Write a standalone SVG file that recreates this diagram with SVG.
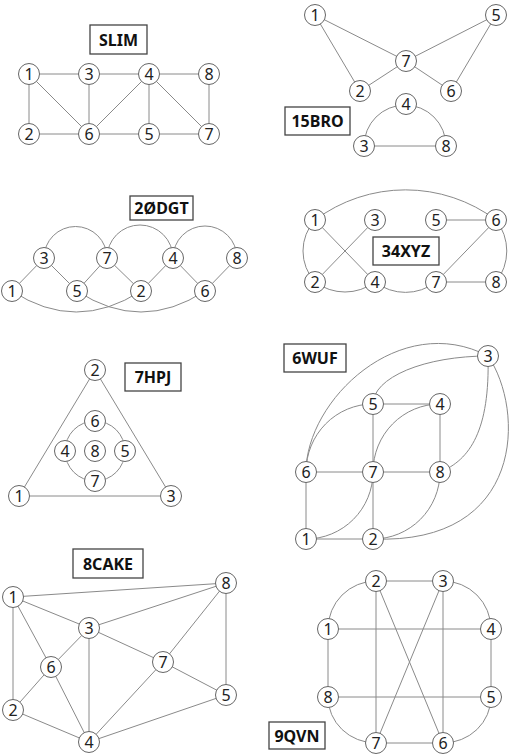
<svg xmlns="http://www.w3.org/2000/svg" width="512" height="755" viewBox="0 0 512 755">
<style>
.e{fill:none;stroke:#8a8a8a;stroke-width:1}
.n circle{fill:#fff;stroke:#666;stroke-width:1}
.n text{font-family:"Noto Sans","Open Sans",sans-serif;font-size:16px;fill:#222;text-anchor:middle}
.l rect{fill:#fff;stroke:#444;stroke-width:1.3}
.l text{font-family:"Noto Sans","Open Sans",sans-serif;font-size:16px;font-weight:bold;fill:#111;text-anchor:middle}
</style>
<rect width="512" height="755" fill="#fff"/>
<g id="connectors">
<!-- SLIM -->
<path class="e" d="M29,74H209M29,74V134M29,74L89,134M89,74V134M149,74L89,134M149,74V134M149,74L209,134M209,74V134M29,134H209"/>
<!-- 15BRO -->
<path class="e" d="M315,15L406,61M315,15L360,91M406,61L360,91M496,15L406,61M496,15L451,91M406,61L451,91M364,146H446"/>
<path class="e" d="M364,146A41,41 0 0 1 446,146"/>
<!-- 2ØDGT -->
<path class="e" d="M12,291L44,258L77,291L107,258L141,291L173,258L205,291L237,258"/>
<path class="e" d="M44,258A31.5,31.5 0 0 1 107,258M107,258A33,33 0 0 1 173,258M173,258A32,32 0 0 1 237,258"/>
<path class="e" d="M12,291Q76,333 141,291M77,291Q141,333 205,291"/>
<!-- 34XYZ -->
<path class="e" d="M315,220L375,282M375,220L315,282M436,220H496M496,220L436,282M436,282H496"/>
<path class="e" d="M315,220A151,151 0 0 1 496,220M315,220A46,46 0 0 0 315,282M496,220A50,50 0 0 1 496,282M315,282A50,50 0 0 0 375,282M375,282A50,50 0 0 0 436,282"/>
<!-- 7HPJ -->
<path class="e" d="M95,370L19,496H171Z"/>
<circle class="e" cx="95" cy="451" r="30"/>
<!-- 6WUF -->
<path class="e" d="M373,404H440M373,404V539M440,404V472M306,472H440M306,472V539H373"/>
<path class="e" d="M306,472A67,68 0 0 1 373,404M373,472A67,68 0 0 1 440,404M306,539A67,67 0 0 0 373,472M373,539A67,67 0 0 0 440,472"/>
<path class="e" d="M373,404A115,48 0 0 1 488,356"/>
<path class="e" d="M306,472C306,400 400,310 488,356"/>
<path class="e" d="M488,356C490,430 470,460 440,472"/>
<path class="e" d="M488,356C525,410 525,545 373,539"/>
<!-- 8CAKE -->
<path class="e" d="M13,597L226,583M13,597L89,628M13,597L51,667M13,597V710M89,628L226,583M89,628L51,667M89,628V742M89,628L163,662M226,583L163,662M226,583V695M163,662L226,695M163,662L89,742M51,667L13,710M51,667L89,742M13,710L89,742M89,742L226,695"/>
<!-- 9QVN -->
<path class="e" d="M376,581H443M328,629H491M328,697H491M376,743H443M328,629V697M491,629V697M376,581V743M443,581V743M376,581L443,743M443,581L376,743"/>
<path class="e" d="M328,629A48,48 0 0 1 376,581M443,581A48,48 0 0 1 491,629M491,697A48,46 0 0 1 443,743M376,743A48,46 0 0 1 328,697"/>
</g>
<!-- labels -->
<g id="label-SLIM" class="l"><rect x="90" y="25" width="57" height="29"/><text x="118.5" y="45.5">SLIM</text></g>
<g id="label-15BRO" class="l"><rect x="285" y="107" width="65" height="28"/><text x="317.5" y="127">15BRO</text></g>
<g id="label-20DGT" class="l"><rect x="130" y="196" width="63" height="24"/><text x="161.5" y="214">2ØDGT</text></g>
<g id="label-34XYZ" class="l"><rect x="373" y="237" width="66" height="28"/><text x="406" y="257">34XYZ</text></g>
<g id="label-7HPJ" class="l"><rect x="125" y="363" width="56" height="28"/><text x="153" y="383">7HPJ</text></g>
<g id="label-6WUF" class="l"><rect x="284" y="344" width="62" height="28"/><text x="315" y="364">6WUF</text></g>
<g id="label-8CAKE" class="l"><rect x="73" y="549" width="70" height="29"/><text x="108" y="569.5">8CAKE</text></g>
<g id="label-9QVN" class="l"><rect x="269" y="722" width="56" height="27"/><text x="297" y="741.5">9QVN</text></g>
<!-- SLIM nodes -->
<g id="slim-1" class="n"><circle cx="29" cy="74" r="10.5"/><text x="29" y="79.6">1</text></g>
<g id="slim-3" class="n"><circle cx="89" cy="74" r="10.5"/><text x="89" y="79.6">3</text></g>
<g id="slim-4" class="n"><circle cx="149" cy="74" r="10.5"/><text x="149" y="79.6">4</text></g>
<g id="slim-8" class="n"><circle cx="209" cy="74" r="10.5"/><text x="209" y="79.6">8</text></g>
<g id="slim-2" class="n"><circle cx="29" cy="134" r="10.5"/><text x="29" y="139.6">2</text></g>
<g id="slim-6" class="n"><circle cx="89" cy="134" r="10.5"/><text x="89" y="139.6">6</text></g>
<g id="slim-5" class="n"><circle cx="149" cy="134" r="10.5"/><text x="149" y="139.6">5</text></g>
<g id="slim-7" class="n"><circle cx="209" cy="134" r="10.5"/><text x="209" y="139.6">7</text></g>
<!-- 15BRO nodes -->
<g id="bro-1" class="n"><circle cx="315" cy="15" r="10.5"/><text x="315" y="20.6">1</text></g>
<g id="bro-5" class="n"><circle cx="496" cy="15" r="10.5"/><text x="496" y="20.6">5</text></g>
<g id="bro-7" class="n"><circle cx="406" cy="61" r="10.5"/><text x="406" y="66.6">7</text></g>
<g id="bro-2" class="n"><circle cx="360" cy="91" r="10.5"/><text x="360" y="96.6">2</text></g>
<g id="bro-6" class="n"><circle cx="451" cy="91" r="10.5"/><text x="451" y="96.6">6</text></g>
<g id="bro-4" class="n"><circle cx="406" cy="104" r="10.5"/><text x="406" y="109.6">4</text></g>
<g id="bro-3" class="n"><circle cx="364" cy="146" r="10.5"/><text x="364" y="151.6">3</text></g>
<g id="bro-8" class="n"><circle cx="446" cy="146" r="10.5"/><text x="446" y="151.6">8</text></g>
<!-- 2ØDGT nodes -->
<g id="dgt-3" class="n"><circle cx="44" cy="258" r="10.5"/><text x="44" y="263.6">3</text></g>
<g id="dgt-7" class="n"><circle cx="107" cy="258" r="10.5"/><text x="107" y="263.6">7</text></g>
<g id="dgt-4" class="n"><circle cx="173" cy="258" r="10.5"/><text x="173" y="263.6">4</text></g>
<g id="dgt-8" class="n"><circle cx="237" cy="258" r="10.5"/><text x="237" y="263.6">8</text></g>
<g id="dgt-1" class="n"><circle cx="12" cy="291" r="10.5"/><text x="12" y="296.6">1</text></g>
<g id="dgt-5" class="n"><circle cx="77" cy="291" r="10.5"/><text x="77" y="296.6">5</text></g>
<g id="dgt-2" class="n"><circle cx="141" cy="291" r="10.5"/><text x="141" y="296.6">2</text></g>
<g id="dgt-6" class="n"><circle cx="205" cy="291" r="10.5"/><text x="205" y="296.6">6</text></g>
<!-- 34XYZ nodes -->
<g id="xyz-1" class="n"><circle cx="315" cy="220" r="10.5"/><text x="315" y="225.6">1</text></g>
<g id="xyz-3" class="n"><circle cx="375" cy="220" r="10.5"/><text x="375" y="225.6">3</text></g>
<g id="xyz-5" class="n"><circle cx="436" cy="220" r="10.5"/><text x="436" y="225.6">5</text></g>
<g id="xyz-6" class="n"><circle cx="496" cy="220" r="10.5"/><text x="496" y="225.6">6</text></g>
<g id="xyz-2" class="n"><circle cx="315" cy="282" r="10.5"/><text x="315" y="287.6">2</text></g>
<g id="xyz-4" class="n"><circle cx="375" cy="282" r="10.5"/><text x="375" y="287.6">4</text></g>
<g id="xyz-7" class="n"><circle cx="436" cy="282" r="10.5"/><text x="436" y="287.6">7</text></g>
<g id="xyz-8" class="n"><circle cx="496" cy="282" r="10.5"/><text x="496" y="287.6">8</text></g>
<!-- 7HPJ nodes -->
<g id="hpj-2" class="n"><circle cx="95" cy="370" r="10.5"/><text x="95" y="375.6">2</text></g>
<g id="hpj-1" class="n"><circle cx="19" cy="496" r="10.5"/><text x="19" y="501.6">1</text></g>
<g id="hpj-3" class="n"><circle cx="171" cy="496" r="10.5"/><text x="171" y="501.6">3</text></g>
<g id="hpj-6" class="n"><circle cx="95" cy="421" r="10.5"/><text x="95" y="426.6">6</text></g>
<g id="hpj-4" class="n"><circle cx="65" cy="451" r="10.5"/><text x="65" y="456.6">4</text></g>
<g id="hpj-8" class="n"><circle cx="95" cy="451" r="10.5"/><text x="95" y="456.6">8</text></g>
<g id="hpj-5" class="n"><circle cx="125" cy="451" r="10.5"/><text x="125" y="456.6">5</text></g>
<g id="hpj-7" class="n"><circle cx="95" cy="481" r="10.5"/><text x="95" y="486.6">7</text></g>
<!-- 6WUF nodes -->
<g id="wuf-3" class="n"><circle cx="488" cy="356" r="10.5"/><text x="488" y="361.6">3</text></g>
<g id="wuf-5" class="n"><circle cx="373" cy="404" r="10.5"/><text x="373" y="409.6">5</text></g>
<g id="wuf-4" class="n"><circle cx="440" cy="404" r="10.5"/><text x="440" y="409.6">4</text></g>
<g id="wuf-6" class="n"><circle cx="306" cy="472" r="10.5"/><text x="306" y="477.6">6</text></g>
<g id="wuf-7" class="n"><circle cx="373" cy="472" r="10.5"/><text x="373" y="477.6">7</text></g>
<g id="wuf-8" class="n"><circle cx="440" cy="472" r="10.5"/><text x="440" y="477.6">8</text></g>
<g id="wuf-1" class="n"><circle cx="306" cy="539" r="10.5"/><text x="306" y="544.6">1</text></g>
<g id="wuf-2" class="n"><circle cx="373" cy="539" r="10.5"/><text x="373" y="544.6">2</text></g>
<!-- 8CAKE nodes -->
<g id="cake-1" class="n"><circle cx="13" cy="597" r="10.5"/><text x="13" y="602.6">1</text></g>
<g id="cake-8" class="n"><circle cx="226" cy="583" r="10.5"/><text x="226" y="588.6">8</text></g>
<g id="cake-3" class="n"><circle cx="89" cy="628" r="10.5"/><text x="89" y="633.6">3</text></g>
<g id="cake-6" class="n"><circle cx="51" cy="667" r="10.5"/><text x="51" y="672.6">6</text></g>
<g id="cake-7" class="n"><circle cx="163" cy="662" r="10.5"/><text x="163" y="667.6">7</text></g>
<g id="cake-5" class="n"><circle cx="226" cy="695" r="10.5"/><text x="226" y="700.6">5</text></g>
<g id="cake-2" class="n"><circle cx="13" cy="710" r="10.5"/><text x="13" y="715.6">2</text></g>
<g id="cake-4" class="n"><circle cx="89" cy="742" r="10.5"/><text x="89" y="747.6">4</text></g>
<!-- 9QVN nodes -->
<g id="qvn-2" class="n"><circle cx="376" cy="581" r="10.5"/><text x="376" y="586.6">2</text></g>
<g id="qvn-3" class="n"><circle cx="443" cy="581" r="10.5"/><text x="443" y="586.6">3</text></g>
<g id="qvn-1" class="n"><circle cx="328" cy="629" r="10.5"/><text x="328" y="634.6">1</text></g>
<g id="qvn-4" class="n"><circle cx="491" cy="629" r="10.5"/><text x="491" y="634.6">4</text></g>
<g id="qvn-8" class="n"><circle cx="328" cy="697" r="10.5"/><text x="328" y="702.6">8</text></g>
<g id="qvn-5" class="n"><circle cx="491" cy="697" r="10.5"/><text x="491" y="702.6">5</text></g>
<g id="qvn-7" class="n"><circle cx="376" cy="743" r="10.5"/><text x="376" y="748.6">7</text></g>
<g id="qvn-6" class="n"><circle cx="443" cy="743" r="10.5"/><text x="443" y="748.6">6</text></g>
</svg>
